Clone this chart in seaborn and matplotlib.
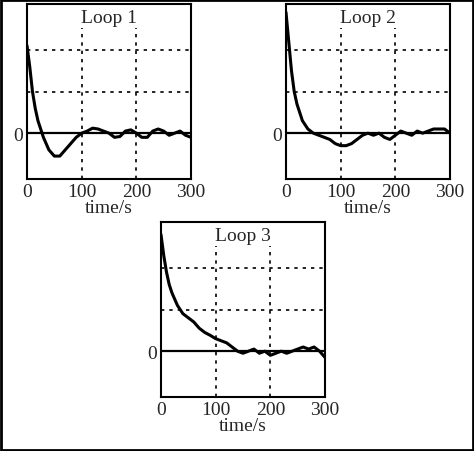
import matplotlib
matplotlib.use("Agg")
import matplotlib.pyplot as plt
import seaborn as sns
import pandas as pd

sns.set_theme(style="white")
plt.rcParams["font.family"] = ["Liberation Serif", "DejaVu Serif"]

# values (time in s, normalised response)
t = [0, 5, 10, 15, 20, 30, 40, 50, 60, 70, 80, 90, 100, 110, 120, 130, 140, 150,
     160, 170, 180, 190, 200, 210, 220, 230, 240, 250, 260, 270, 280, 290, 300]
loop1 = [2.1, 1.6, 1.0, 0.6, 0.3, -0.1, -0.4, -0.55, -0.55, -0.4, -0.25, -0.1, 0.0,
         0.05, 0.12, 0.1, 0.05, 0.0, -0.1, -0.08, 0.05, 0.08, 0.0, -0.1, -0.1, 0.05,
         0.1, 0.05, -0.05, 0.0, 0.05, -0.05, -0.1]
loop2 = [2.9, 2.2, 1.5, 1.0, 0.7, 0.3, 0.1, 0.0, -0.05, -0.1, -0.15, -0.25, -0.3,
         -0.3, -0.25, -0.15, -0.05, 0.0, -0.05, 0.0, -0.1, -0.15, -0.05, 0.05, 0.0,
         -0.05, 0.05, 0.0, 0.05, 0.1, 0.1, 0.1, 0.0]
loop3 = [2.8, 2.3, 1.9, 1.6, 1.4, 1.1, 0.9, 0.8, 0.7, 0.55, 0.45, 0.38, 0.3, 0.25,
         0.2, 0.1, 0.0, -0.05, 0.0, 0.05, -0.05, 0.0, -0.1, -0.05, 0.0, -0.05,
         0.0, 0.05, 0.1, 0.05, 0.1, 0.0, -0.15]

loops = {"Loop 1": loop1, "Loop 2": loop2, "Loop 3": loop3}
W, H = 474, 452
fig = plt.figure(figsize=(W / 100, H / 100), dpi=100)
# axes boxes in pixels (left, top, right, bottom)
boxes = {"Loop 1": (27, 5, 191, 180), "Loop 2": (286, 5, 450, 180),
         "Loop 3": (161, 223, 325, 398)}

for name, ys in loops.items():
    l, tp, r, b = boxes[name]
    ax = fig.add_axes([l / W, 1 - b / H, (r - l) / W, (b - tp) / H])
    df = pd.DataFrame({"t": t, "y": ys})
    ax.axhline(0, color="black", lw=1.6)
    for g in (1, 2):
        ax.axhline(g, color="black", lw=1.2, ls=(0, (2, 3)))
    for g in (100, 200):
        ax.axvline(g, color="black", lw=1.2, ls=(0, (2, 3)))
    sns.lineplot(data=df, x="t", y="y", ax=ax, color="black", lw=2.2)
    ax.set_xlim(0, 300)
    ax.set_ylim(-1.1, 3.1)
    ax.set_xticks([0, 100, 200, 300])
    ax.set_yticks([0])
    ax.tick_params(labelsize=14, length=0, pad=3)
    ax.set_xlabel("time/s", fontsize=14, labelpad=-1)
    ax.set_ylabel("")
    for s in ax.spines.values():
        s.set_color("black")
        s.set_linewidth(1.5)
    ax.text(0.5, 0.97, name, transform=ax.transAxes, ha="center", va="top",
            fontsize=14, bbox=dict(facecolor="white", edgecolor="none", pad=1))

fig.patches.append(plt.Rectangle((0.002, 0.002), 0.996, 0.996, transform=fig.transFigure,
                                 fill=False, edgecolor="black", lw=2))
fig.savefig("out.png", dpi=100)
